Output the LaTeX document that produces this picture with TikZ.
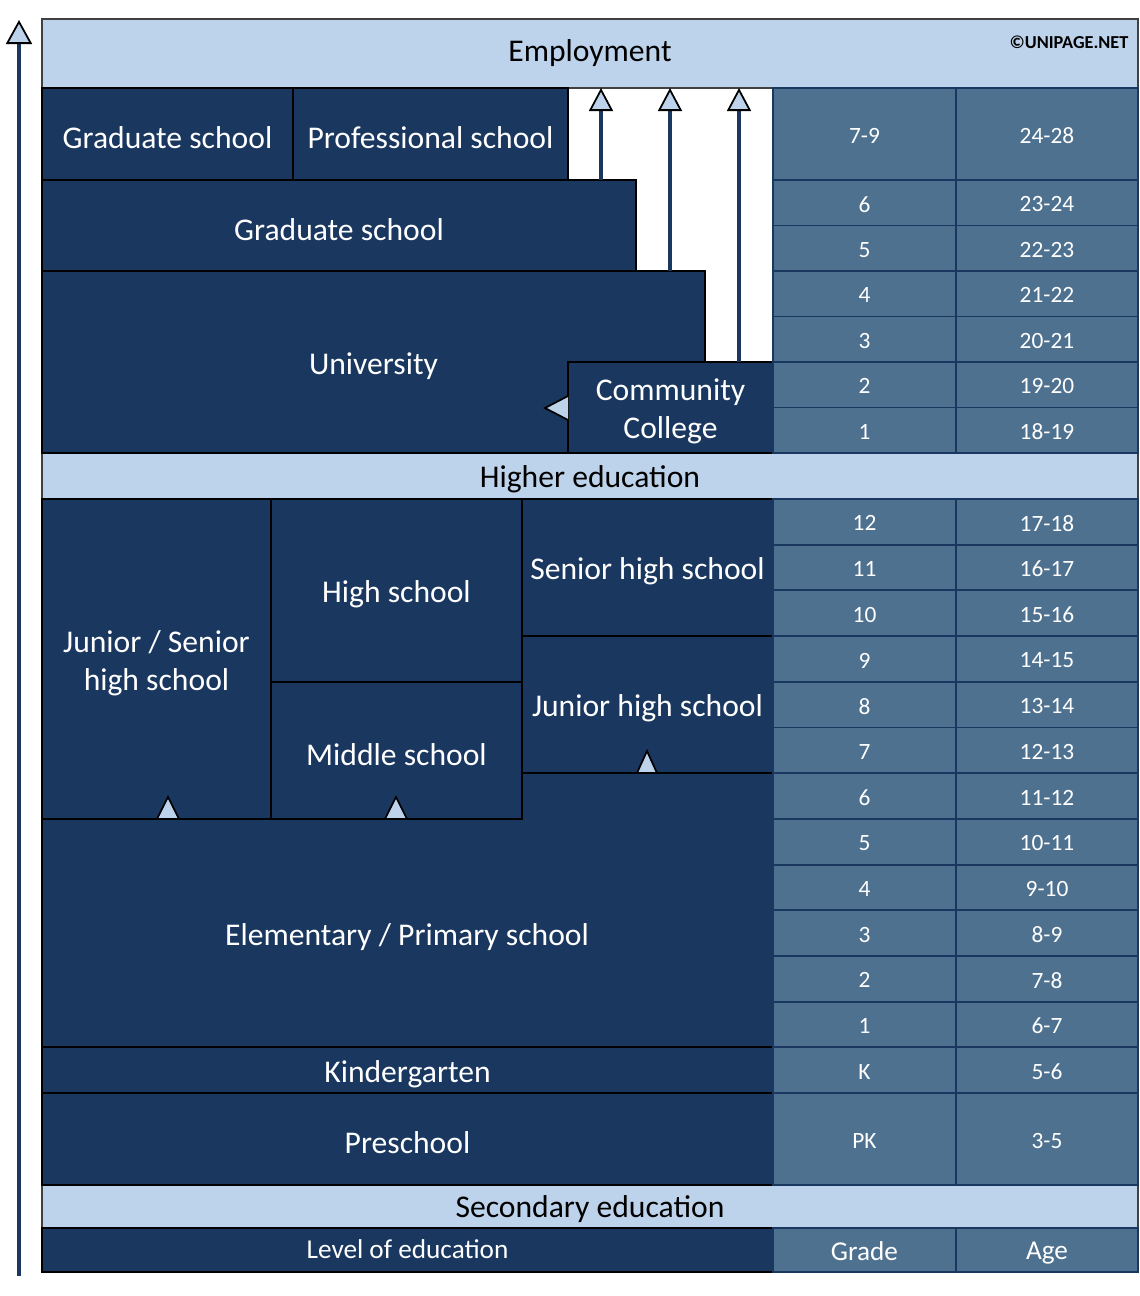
\documentclass[tikz,border=0pt]{standalone}
\usepackage{fontspec}
\setmainfont{Carlito}
\usetikzlibrary{arrows.meta}
\definecolor{navy}{RGB}{26,55,96}
\definecolor{steel}{RGB}{78,113,144}
\definecolor{lightblue}{RGB}{189,211,235}
\newcommand{\lblfont}{\fontsize{18}{21.5}\selectfont}
\newcommand{\cellfont}{\fontsize{13.3}{15}\selectfont}
\newcommand{\hdrfont}{\fontsize{15.5}{18}\selectfont}
\newcommand{\rh}{45.7}
\begin{document}
\begin{tikzpicture}[x=0.02cm,y=-0.02cm,
	block/.style={fill=navy,draw=black,line width=1.1pt},
	cell/.style={fill=steel,draw=navy,line width=1.1pt},
	band/.style={fill=lightblue,draw=black!75,line width=1pt},
	lbl/.style={text=white,font=\lblfont,yshift=-0.08cm},
	num/.style={text=white,font=\cellfont,yshift=-0.03cm},
	tri/.style={fill=lightblue,draw=black,line width=1pt,line join=miter},
	uparrow/.style={navy,line width=2.2pt,-{Triangle[color=black,fill=lightblue,width=0.48cm,length=0.46cm,line width=1pt]}}]
	\useasboundingbox (0,0) rectangle (1140,1296);

	%bands
	\draw[band] (42,19) rectangle (1138,88) node[midway,font=\lblfont] (empl) {Employment};
	\node[font=\bfseries\fontsize{10.4}{12}\selectfont] (copy) at (1069,42) {©UNIPAGE.NET};
	\draw[band] (42,453) rectangle (1138,499) node[midway,font=\lblfont,yshift=-0.07cm] (higher) {Higher education};
	\draw[band] (42,1185) rectangle (1138,1228) node[midway,font=\lblfont,yshift=-0.06cm] (second) {Secondary education};

	%higher education
	\draw[block] (42,88) rectangle (293,180) node[midway,lbl] (gradA) {Graduate school};
	\draw[block] (293,88) rectangle (568,180) node[midway,lbl] (prof) {Professional school};
	\draw[block] (42,180) rectangle (636,271) node[midway,lbl] (gradB) {Graduate school};
	\draw[block] (42,271) rectangle (705,453) node[midway,lbl] (univ) {University};
	\draw[block] (568,362) rectangle (773,453) node[midway,lbl,align=center] (cc) {Community\\College};
	\draw[tri] (568,396) -- (545,408) -- (568,420); %CC to university

	%arrows to employment
	\coordinate (gradBtop) at (601,180); \coordinate (empA) at (601,88);
	\coordinate (univtop) at (670,271); \coordinate (empB) at (670,88);
	\coordinate (cctop) at (739,362); \coordinate (empC) at (739,88);
	\draw[uparrow] (gradBtop) -- (empA);
	\draw[uparrow] (univtop) -- (empB);
	\draw[uparrow] (cctop) -- (empC);

	%schools
	\draw[block] (42,773) rectangle (773,1047); %elementary
	\node[lbl] (elem) at (407,933) {Elementary / Primary school};
	\draw[block] (42,499) rectangle (271,819) node[midway,lbl,align=center] (jshs) {Junior / Senior\\high school};
	\draw[block] (271,499) rectangle (522,682) node[midway,lbl] (hs) {High school};
	\draw[block] (271,682) rectangle (522,819) node[midway,lbl] (ms) {Middle school};
	\draw[block] (522,499) rectangle (773,636) node[midway,lbl] (shs) {Senior high school};
	\draw[block] (522,636) rectangle (773,773) node[midway,lbl] (jhs) {Junior high school};
	\draw[block] (42,1047) rectangle (773,1093) node[midway,lbl] (kg) {Kindergarten};
	\draw[block] (42,1093) rectangle (773,1185) node[midway,lbl] (pre) {Preschool};
	\draw[tri] (157,819) -- (168,797) -- (179,819) -- cycle; %elem to jshs
	\draw[tri] (385,819) -- (396,797) -- (407,819) -- cycle; %elem to ms
	\draw[tri] (637,773) -- (647,751) -- (657,773) -- cycle; %elem to jhs

	%grade and age
	\draw[cell] (773,88) rectangle (956,180) node[midway,num] (gtop) {7-9};
	\draw[cell] (956,88) rectangle (1138,180) node[midway,num] (atop) {24-28};
	\foreach \g/\a [count=\i] in {6/23-24,5/22-23,4/21-22,3/20-21,2/19-20,1/18-19}{
		\draw[cell] (773,{180+(\i-1)*45.5}) rectangle ++(183,45.5) node[midway,num] (gu\i) {\g};
		\draw[cell] (956,{180+(\i-1)*45.5}) rectangle ++(182,45.5) node[midway,num] (au\i) {\a};
	}
	\foreach \g/\a [count=\i] in {12/17-18,11/16-17,10/15-16,9/14-15,8/13-14,7/12-13,6/11-12,5/10-11,4/9-10,3/8-9,2/7-8,1/6-7,K/5-6}{
		\draw[cell] (773,{499+(\i-1)*\rh}) rectangle ++(183,\rh) node[midway,num] (gl\i) {\g};
		\draw[cell] (956,{499+(\i-1)*\rh}) rectangle ++(182,\rh) node[midway,num] (al\i) {\a};
	}
	\draw[cell] (773,1093) rectangle (956,1185) node[midway,num] (gpk) {PK};
	\draw[cell] (956,1093) rectangle (1138,1185) node[midway,num] (apk) {3-5};

	%bottom row
	\draw[block] (42,1228) rectangle (773,1272) node[midway,text=white,font=\hdrfont,text depth=0.25ex] (lvl) {Level of education};
	\draw[cell] (773,1228) rectangle (956,1272) node[midway,text=white,font=\hdrfont,text depth=0.25ex,yshift=-0.04cm] (grd) {Grade};
	\draw[cell] (956,1228) rectangle (1138,1272) node[midway,text=white,font=\hdrfont,text depth=0.25ex,yshift=-0.04cm] (age) {Age};

	%main arrow
	\coordinate (base) at (19,1276); \coordinate (peak) at (19,20);
	\draw[navy,line width=2.2pt,-{Triangle[color=black,fill=lightblue,width=0.52cm,length=0.48cm,line width=1pt]}] (base) -- (peak);
\end{tikzpicture}
\end{document}
